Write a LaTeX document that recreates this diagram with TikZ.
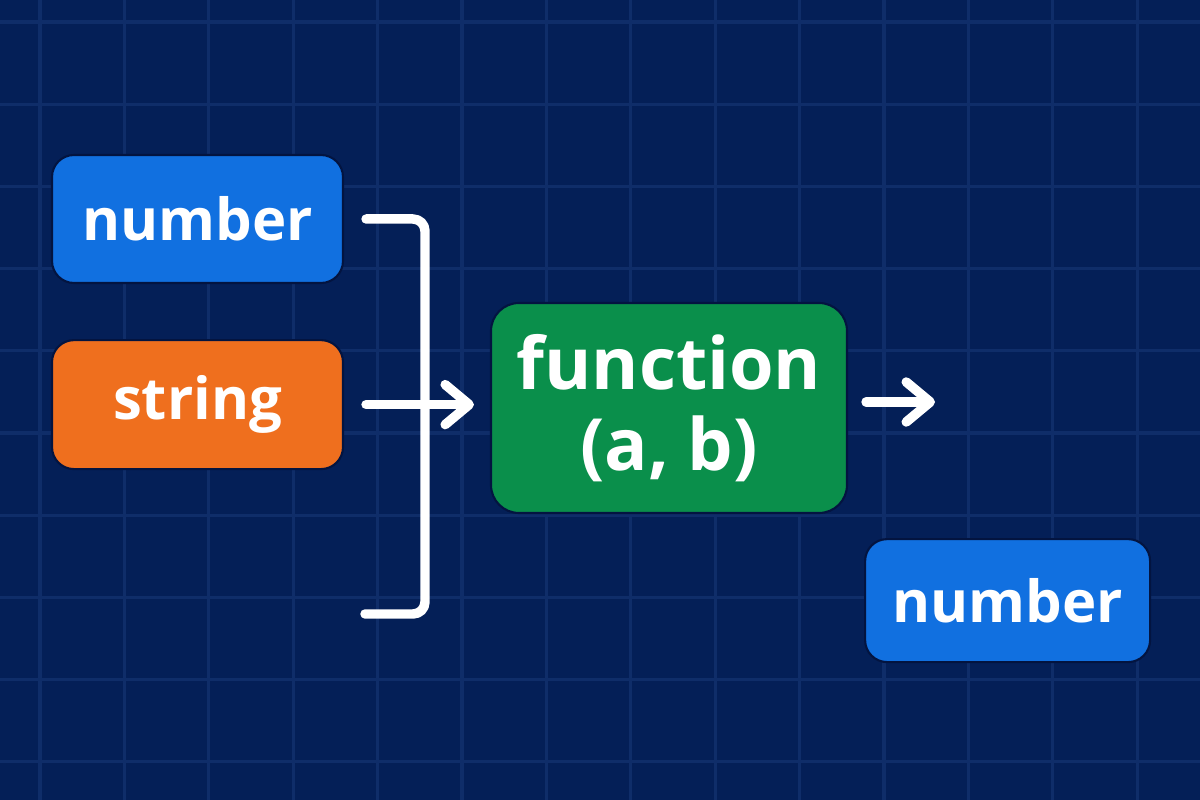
\documentclass[tikz,border=0pt]{standalone}
\usepackage{fontspec}
\setmainfont{Open Sans}
\usetikzlibrary{arrows.meta, positioning}
\definecolor{bgnavy}{HTML}{041F57}
\definecolor{gridnavy}{HTML}{0F2D69}
\definecolor{edgenavy}{HTML}{031440}
\definecolor{boxblue}{HTML}{1170E0}
\definecolor{boxorange}{HTML}{EF6F1E}
\definecolor{boxgreen}{HTML}{0A8F4B}

\begin{document}
\begin{tikzpicture}[
    typebox/.style={rectangle, draw=edgenavy, line width=0.6pt, text=white, rounded corners=0.22cm, font=\fontsize{16.5}{18}\selectfont\bfseries, inner sep=0pt},
    funcbox/.style={typebox, fill=boxgreen, rounded corners=0.28cm, align=center, minimum width=3.56cm, minimum height=2.10cm, font=\fontsize{20.5}{23}\selectfont\bfseries},
    wire/.style={white, line width=2.7pt, line cap=round, line join=round, rounded corners=0.12cm},
    arrow/.style={wire, -{Straight Barb[length=0.24cm, width=0.40cm, line cap=round, line join=round]}}]
    % background and grid
    \fill[bgnavy] (0,0) rectangle (12,-8);
    \useasboundingbox (0,0) rectangle (12,-8);
    \foreach \gx in {0,...,13}
        \draw[gridnavy, line width=0.9pt] ({0.40+0.844*\gx},0) -- ++(0,-8);
    \foreach \gy in {0,...,9}
        \draw[gridnavy, line width=0.9pt] (0,{-0.22-0.822*\gy}) -- ++(12,0);
    % inputs
    \node [typebox, fill=boxblue, minimum width=2.91cm, minimum height=1.28cm] (numin) at (1.975,-2.19) {number};
    \node [typebox, fill=boxorange, minimum width=2.91cm, minimum height=1.29cm, below=0.55cm of numin] (str) {string};
    % function and result
    \node [funcbox] (func) at (6.69,-4.08) {function\\(a, b)};
    \node [typebox, fill=boxblue, minimum width=2.85cm, minimum height=1.23cm, below right=0.24cm and 0.16cm of func.south east] (numout) {number};
    \coordinate (spine) at (4.25,-6.14);
    \coordinate (stub) at (3.65,-6.14);
    \coordinate (result) at (9.35,-4.02);
    % connectors
    \draw [wire] ([xshift=0.22cm]numin.east) -| (spine) -- (stub);
    \draw [arrow] ([xshift=0.22cm]str.east) -- ([xshift=-0.16cm]func.west |- str.east);
    \draw [arrow] ([xshift=0.18cm]func.east |- result) -- (result);
\end{tikzpicture}
\end{document}
